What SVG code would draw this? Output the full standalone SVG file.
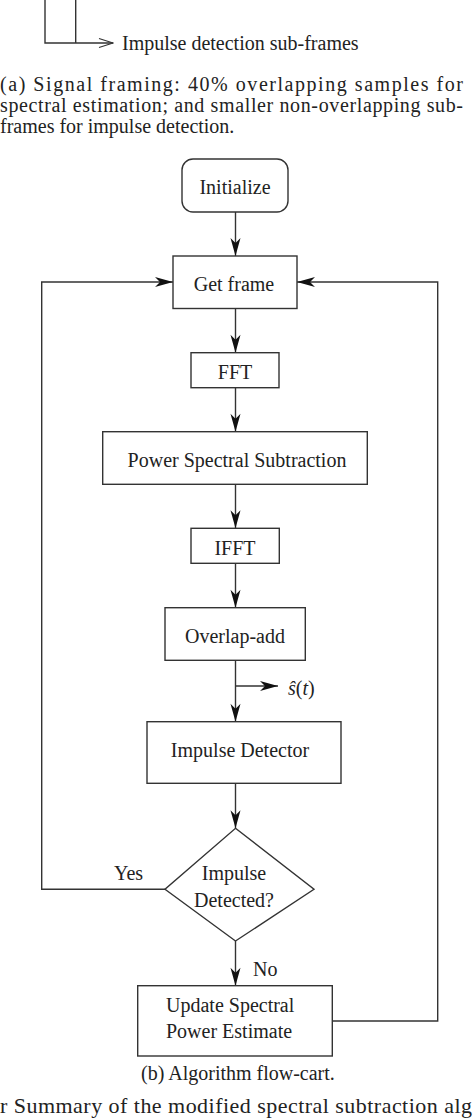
<svg xmlns="http://www.w3.org/2000/svg" width="474" height="1118" viewBox="0 0 474 1118">
<style>
text{font-family:"Liberation Serif","Times New Roman",serif;font-size:20px;fill:#222}
.c{text-anchor:middle}
.big{font-size:22px}
.box{fill:#fff;stroke:#333;stroke-width:1.4}
.ln{fill:none;stroke:#333;stroke-width:1.4}
</style>
<defs>
<marker id="ah" markerUnits="userSpaceOnUse" markerWidth="20" markerHeight="12" viewBox="-19 -6 20 12" refX="0" refY="0" orient="auto">
<path d="M0,0 L-18,-5 L-13,0 L-18,5 Z" fill="#111"/>
</marker>
<marker id="open" markerUnits="userSpaceOnUse" markerWidth="16" markerHeight="12" viewBox="-15 -6 16 12" refX="0" refY="0" orient="auto">
<path d="M-14,-4.5 L0,0 L-14,4.5" fill="none" stroke="#333" stroke-width="1.2"/>
</marker>
</defs>

<g id="framing">
<path class="ln" d="M45,0 V43 H113" marker-end="url(#open)"/>
<path class="ln" d="M75.7,0 V43"/>
<text x="122" y="50">Impulse detection sub-frames</text>
</g>
<g id="caption-a">
<text x="0" y="91" textLength="463" lengthAdjust="spacing">(a) Signal framing: 40% overlapping samples for</text>
<text x="0" y="112" textLength="463" lengthAdjust="spacing">spectral estimation; and smaller non-overlapping sub-</text>
<text x="0" y="133">frames for impulse detection.</text>
</g>

<g id="connectors">
<path class="ln" d="M235.5,212 V256" marker-end="url(#ah)"/>
<path class="ln" d="M235.5,308.5 V352.7" marker-end="url(#ah)"/>
<path class="ln" d="M235.5,387.7 V431.7" marker-end="url(#ah)"/>
<path class="ln" d="M235.5,484.3 V528.3" marker-end="url(#ah)"/>
<path class="ln" d="M235.5,563.3 V607.7" marker-end="url(#ah)"/>
<path class="ln" d="M235.5,660.3 V721.7" marker-end="url(#ah)"/>
<path class="ln" d="M235.5,686 H278" marker-end="url(#ah)"/>
<path class="ln" d="M235.5,783.3 V828.3" marker-end="url(#ah)"/>
<path class="ln" d="M235.5,941 V985.7" marker-end="url(#ah)"/>
<path class="ln" d="M165,889.3 H41.7 V282 H173" marker-end="url(#ah)"/>
<path class="ln" d="M332.3,1021 H437.7 V282 H297" marker-end="url(#ah)"/>
<text x="288" y="695"><tspan font-style="italic">ŝ</tspan>(<tspan font-style="italic">t</tspan>)</text>
<text x="114" y="880">Yes</text>
<text x="253" y="976">No</text>
</g>

<g id="initialize">
<rect class="box" x="182" y="159" width="106" height="53" rx="11"/>
<text class="c" x="235" y="194">Initialize</text>
</g>
<g id="get-frame">
<rect class="box" x="173" y="256" width="124" height="52.5"/>
<text class="c" x="234" y="291">Get frame</text>
</g>
<g id="fft">
<rect class="box" x="191" y="352.7" width="88" height="35"/>
<text class="c" x="235" y="379">FFT</text>
</g>
<g id="pss">
<rect class="box" x="102.7" y="431.7" width="264.6" height="52.6"/>
<text class="c" x="237" y="466.5">Power Spectral Subtraction</text>
</g>
<g id="ifft">
<rect class="box" x="191" y="528.3" width="88.3" height="35"/>
<text class="c" x="235" y="555">IFFT</text>
</g>
<g id="overlap-add">
<rect class="box" x="165" y="607.7" width="140.3" height="52.6"/>
<text class="c" x="235" y="643">Overlap-add</text>
</g>
<g id="impulse-detector">
<rect class="box" x="147" y="721.7" width="194" height="61.6"/>
<text class="c" x="240" y="757">Impulse Detector</text>
</g>
<g id="decision">
<path class="box" d="M235.5,828.3 L314,889.3 L235.5,941 L165,889.3 Z"/>
<text class="c" x="234" y="880">Impulse</text>
<text class="c" x="234" y="907">Detected?</text>
</g>
<g id="update">
<rect class="box" x="137.7" y="985.7" width="194.6" height="70.3"/>
<text x="166" y="1012">Update Spectral</text>
<text x="166" y="1038">Power Estimate</text>
</g>
<g id="caption-b">
<text x="141" y="1080">(b) Algorithm flow-cart.</text>
<text class="big" x="0" y="1113" textLength="472" lengthAdjust="spacing">r Summary of the modified spectral subtraction alg</text>
</g>
</svg>
